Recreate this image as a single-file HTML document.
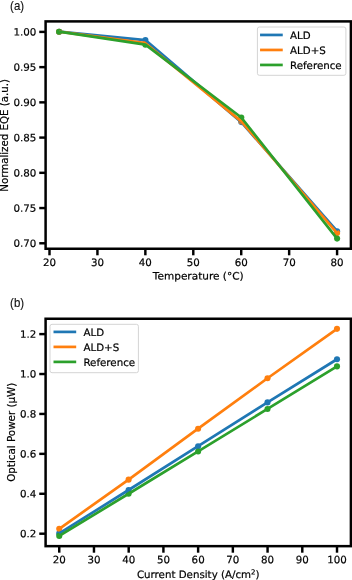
<!DOCTYPE html>
<html lang="en"><head><meta charset="utf-8"><title>Figure</title>
<style>html,body{margin:0;padding:0;background:#fff}body{width:352px;height:580px;overflow:hidden}svg{display:block}text{font-family:"DejaVu Sans","Liberation Sans",sans-serif;font-size:10.15px;fill:#000;stroke:#000;stroke-width:0.2px}.pl{font-family:"Liberation Sans",Arial,sans-serif;font-size:12.6px;fill:#111;stroke:#111;stroke-width:0.15px}</style></head><body>
<svg width="352" height="580" viewBox="0 0 352 580">
<rect width="352" height="580" fill="#fff"/>
<circle cx="59.10" cy="31.70" r="3.05" fill="#1f77b4"/>
<circle cx="145.40" cy="40.10" r="3.05" fill="#1f77b4"/>
<circle cx="241.30" cy="122.10" r="3.05" fill="#1f77b4"/>
<circle cx="337.10" cy="231.20" r="3.05" fill="#1f77b4"/>
<circle cx="59.10" cy="31.70" r="3.05" fill="#ff7f0e"/>
<circle cx="145.40" cy="43.20" r="3.05" fill="#ff7f0e"/>
<circle cx="241.30" cy="121.35" r="3.05" fill="#ff7f0e"/>
<circle cx="337.10" cy="233.10" r="3.05" fill="#ff7f0e"/>
<circle cx="59.10" cy="31.70" r="3.05" fill="#2ca02c"/>
<circle cx="145.40" cy="44.70" r="3.05" fill="#2ca02c"/>
<circle cx="241.30" cy="117.50" r="3.05" fill="#2ca02c"/>
<circle cx="337.10" cy="238.60" r="3.05" fill="#2ca02c"/>
<polyline fill="none" stroke="#1f77b4" stroke-width="2.7" stroke-linejoin="round" stroke-linecap="butt" points="59.10,31.70 145.40,40.10 241.30,122.10 337.10,231.20"/>
<polyline fill="none" stroke="#ff7f0e" stroke-width="2.7" stroke-linejoin="round" stroke-linecap="butt" points="59.10,31.70 145.40,43.20 241.30,121.35 337.10,233.10"/>
<polyline fill="none" stroke="#2ca02c" stroke-width="2.7" stroke-linejoin="round" stroke-linecap="butt" points="59.10,31.70 145.40,44.70 241.30,117.50 337.10,238.60"/>
<line x1="49.50" x2="49.50" y1="248.75" y2="255.30" stroke="#000" stroke-width="2.45"/>
<text transform="translate(49.50,265.95) scale(1.01,1) rotate(0.03)" text-anchor="middle">20</text>
<line x1="97.43" x2="97.43" y1="248.75" y2="255.30" stroke="#000" stroke-width="2.45"/>
<text transform="translate(97.43,265.95) scale(1.01,1) rotate(0.03)" text-anchor="middle">30</text>
<line x1="145.36" x2="145.36" y1="248.75" y2="255.30" stroke="#000" stroke-width="2.45"/>
<text transform="translate(145.36,265.95) scale(1.01,1) rotate(0.03)" text-anchor="middle">40</text>
<line x1="193.29" x2="193.29" y1="248.75" y2="255.30" stroke="#000" stroke-width="2.45"/>
<text transform="translate(193.29,265.95) scale(1.01,1) rotate(0.03)" text-anchor="middle">50</text>
<line x1="241.22" x2="241.22" y1="248.75" y2="255.30" stroke="#000" stroke-width="2.45"/>
<text transform="translate(241.22,265.95) scale(1.01,1) rotate(0.03)" text-anchor="middle">60</text>
<line x1="289.15" x2="289.15" y1="248.75" y2="255.30" stroke="#000" stroke-width="2.45"/>
<text transform="translate(289.15,265.95) scale(1.01,1) rotate(0.03)" text-anchor="middle">70</text>
<line x1="337.08" x2="337.08" y1="248.75" y2="255.30" stroke="#000" stroke-width="2.45"/>
<text transform="translate(337.08,265.95) scale(1.01,1) rotate(0.03)" text-anchor="middle">80</text>
<line x1="39.25" x2="45.60" y1="31.90" y2="31.90" stroke="#000" stroke-width="2.45"/>
<text transform="translate(36.40,35.50) scale(1.015,1) rotate(0.03)" text-anchor="end">1.00</text>
<line x1="39.25" x2="45.60" y1="67.13" y2="67.13" stroke="#000" stroke-width="2.45"/>
<text transform="translate(36.40,70.73) scale(1.015,1) rotate(0.03)" text-anchor="end">0.95</text>
<line x1="39.25" x2="45.60" y1="102.36" y2="102.36" stroke="#000" stroke-width="2.45"/>
<text transform="translate(36.40,105.96) scale(1.015,1) rotate(0.03)" text-anchor="end">0.90</text>
<line x1="39.25" x2="45.60" y1="137.59" y2="137.59" stroke="#000" stroke-width="2.45"/>
<text transform="translate(36.40,141.19) scale(1.015,1) rotate(0.03)" text-anchor="end">0.85</text>
<line x1="39.25" x2="45.60" y1="172.82" y2="172.82" stroke="#000" stroke-width="2.45"/>
<text transform="translate(36.40,176.42) scale(1.015,1) rotate(0.03)" text-anchor="end">0.80</text>
<line x1="39.25" x2="45.60" y1="208.05" y2="208.05" stroke="#000" stroke-width="2.45"/>
<text transform="translate(36.40,211.65) scale(1.015,1) rotate(0.03)" text-anchor="end">0.75</text>
<line x1="39.25" x2="45.60" y1="243.28" y2="243.28" stroke="#000" stroke-width="2.45"/>
<text transform="translate(36.40,246.88) scale(1.015,1) rotate(0.03)" text-anchor="end">0.70</text>
<rect x="45.60" y="21.40" width="305.30" height="227.35" fill="none" stroke="#000" stroke-width="2.5"/>
<text transform="translate(198.25,279.60) scale(1.038,1) rotate(0.03)" text-anchor="middle">Temperature (°C)</text>
<text transform="translate(8.20,135.42) scale(1.025,1) rotate(-90)" text-anchor="middle" style="font-size:10.23px">Normalized EQE (a.u.)</text>
<rect x="257.40" y="27.00" width="88.50" height="48.30" rx="2" ry="2" fill="#fff" fill-opacity="0.8" stroke="#d4d4d4" stroke-width="1"/>
<line x1="261.40" x2="281.40" y1="34.95" y2="34.95" stroke="#1f77b4" stroke-width="2.7" stroke-linecap="square"/>
<text transform="translate(290.00,39.10) scale(1.012,1) rotate(0.03)">ALD</text>
<line x1="261.40" x2="281.40" y1="49.95" y2="49.95" stroke="#ff7f0e" stroke-width="2.7" stroke-linecap="square"/>
<text transform="translate(290.00,54.10) scale(1.012,1) rotate(0.03)">ALD+S</text>
<line x1="261.40" x2="281.40" y1="64.95" y2="64.95" stroke="#2ca02c" stroke-width="2.7" stroke-linecap="square"/>
<text transform="translate(290.00,69.10) scale(1.012,1) rotate(0.03)">Reference</text>
<circle cx="59.25" cy="533.40" r="3.05" fill="#1f77b4"/>
<circle cx="128.60" cy="490.01" r="3.05" fill="#1f77b4"/>
<circle cx="198.10" cy="446.21" r="3.05" fill="#1f77b4"/>
<circle cx="267.50" cy="402.42" r="3.05" fill="#1f77b4"/>
<circle cx="337.00" cy="359.23" r="3.05" fill="#1f77b4"/>
<circle cx="59.25" cy="528.80" r="3.05" fill="#ff7f0e"/>
<circle cx="128.60" cy="479.65" r="3.05" fill="#ff7f0e"/>
<circle cx="198.10" cy="428.70" r="3.05" fill="#ff7f0e"/>
<circle cx="267.50" cy="378.25" r="3.05" fill="#ff7f0e"/>
<circle cx="337.00" cy="328.85" r="3.05" fill="#ff7f0e"/>
<circle cx="59.25" cy="535.90" r="3.05" fill="#2ca02c"/>
<circle cx="128.60" cy="493.76" r="3.05" fill="#2ca02c"/>
<circle cx="198.10" cy="451.47" r="3.05" fill="#2ca02c"/>
<circle cx="267.50" cy="408.93" r="3.05" fill="#2ca02c"/>
<circle cx="337.00" cy="366.38" r="3.05" fill="#2ca02c"/>
<polyline fill="none" stroke="#1f77b4" stroke-width="2.7" stroke-linejoin="round" stroke-linecap="butt" points="59.25,533.40 128.60,490.01 198.10,446.21 267.50,402.42 337.00,359.23"/>
<polyline fill="none" stroke="#ff7f0e" stroke-width="2.7" stroke-linejoin="round" stroke-linecap="butt" points="59.25,528.80 128.60,479.65 198.10,428.70 267.50,378.25 337.00,328.85"/>
<polyline fill="none" stroke="#2ca02c" stroke-width="2.7" stroke-linejoin="round" stroke-linecap="butt" points="59.25,535.90 128.60,493.76 198.10,451.47 267.50,408.93 337.00,366.38"/>
<line x1="59.25" x2="59.25" y1="546.15" y2="552.70" stroke="#000" stroke-width="2.45"/>
<text transform="translate(59.25,563.20) scale(1.01,1) rotate(0.03)" text-anchor="middle">20</text>
<line x1="93.97" x2="93.97" y1="546.15" y2="552.70" stroke="#000" stroke-width="2.45"/>
<text transform="translate(93.97,563.20) scale(1.01,1) rotate(0.03)" text-anchor="middle">30</text>
<line x1="128.69" x2="128.69" y1="546.15" y2="552.70" stroke="#000" stroke-width="2.45"/>
<text transform="translate(128.69,563.20) scale(1.01,1) rotate(0.03)" text-anchor="middle">40</text>
<line x1="163.41" x2="163.41" y1="546.15" y2="552.70" stroke="#000" stroke-width="2.45"/>
<text transform="translate(163.41,563.20) scale(1.01,1) rotate(0.03)" text-anchor="middle">50</text>
<line x1="198.13" x2="198.13" y1="546.15" y2="552.70" stroke="#000" stroke-width="2.45"/>
<text transform="translate(198.13,563.20) scale(1.01,1) rotate(0.03)" text-anchor="middle">60</text>
<line x1="232.85" x2="232.85" y1="546.15" y2="552.70" stroke="#000" stroke-width="2.45"/>
<text transform="translate(232.85,563.20) scale(1.01,1) rotate(0.03)" text-anchor="middle">70</text>
<line x1="267.57" x2="267.57" y1="546.15" y2="552.70" stroke="#000" stroke-width="2.45"/>
<text transform="translate(267.57,563.20) scale(1.01,1) rotate(0.03)" text-anchor="middle">80</text>
<line x1="302.29" x2="302.29" y1="546.15" y2="552.70" stroke="#000" stroke-width="2.45"/>
<text transform="translate(302.29,563.20) scale(1.01,1) rotate(0.03)" text-anchor="middle">90</text>
<line x1="337.01" x2="337.01" y1="546.15" y2="552.70" stroke="#000" stroke-width="2.45"/>
<text transform="translate(337.01,563.20) scale(1.01,1) rotate(0.03)" text-anchor="middle">100</text>
<line x1="39.25" x2="45.60" y1="533.70" y2="533.70" stroke="#000" stroke-width="2.45"/>
<text transform="translate(36.40,537.30) scale(1.015,1) rotate(0.03)" text-anchor="end">0.2</text>
<line x1="39.25" x2="45.60" y1="493.78" y2="493.78" stroke="#000" stroke-width="2.45"/>
<text transform="translate(36.40,497.38) scale(1.015,1) rotate(0.03)" text-anchor="end">0.4</text>
<line x1="39.25" x2="45.60" y1="453.86" y2="453.86" stroke="#000" stroke-width="2.45"/>
<text transform="translate(36.40,457.46) scale(1.015,1) rotate(0.03)" text-anchor="end">0.6</text>
<line x1="39.25" x2="45.60" y1="413.94" y2="413.94" stroke="#000" stroke-width="2.45"/>
<text transform="translate(36.40,417.54) scale(1.015,1) rotate(0.03)" text-anchor="end">0.8</text>
<line x1="39.25" x2="45.60" y1="374.02" y2="374.02" stroke="#000" stroke-width="2.45"/>
<text transform="translate(36.40,377.62) scale(1.015,1) rotate(0.03)" text-anchor="end">1.0</text>
<line x1="39.25" x2="45.60" y1="334.10" y2="334.10" stroke="#000" stroke-width="2.45"/>
<text transform="translate(36.40,337.70) scale(1.015,1) rotate(0.03)" text-anchor="end">1.2</text>
<rect x="45.60" y="318.75" width="305.30" height="227.40" fill="none" stroke="#000" stroke-width="2.5"/>
<text transform="translate(198.25,578.05) scale(1.012,1) rotate(0.03)" text-anchor="middle">Current Density (A/cm<tspan font-size="7" dy="-3.6">2</tspan><tspan dy="3.6">)</tspan></text>
<text transform="translate(14.90,432.25) scale(1.025,1) rotate(-90)" text-anchor="middle" style="font-size:10.34px">Optical Power (µW)</text>
<rect x="50.00" y="324.30" width="88.40" height="48.40" rx="2" ry="2" fill="#fff" fill-opacity="0.8" stroke="#d4d4d4" stroke-width="1"/>
<line x1="54.85" x2="74.85" y1="331.90" y2="331.90" stroke="#1f77b4" stroke-width="2.7" stroke-linecap="square"/>
<text transform="translate(83.45,336.05) scale(1.012,1) rotate(0.03)">ALD</text>
<line x1="54.85" x2="74.85" y1="346.90" y2="346.90" stroke="#ff7f0e" stroke-width="2.7" stroke-linecap="square"/>
<text transform="translate(83.45,351.05) scale(1.012,1) rotate(0.03)">ALD+S</text>
<line x1="54.85" x2="74.85" y1="361.90" y2="361.90" stroke="#2ca02c" stroke-width="2.7" stroke-linecap="square"/>
<text transform="translate(83.45,366.05) scale(1.012,1) rotate(0.03)">Reference</text>
<text class="pl" transform="translate(10.1,10.4) scale(0.91,1)">(a)</text>
<text class="pl" transform="translate(10.1,307.2) scale(0.91,1)">(b)</text>
</svg></body></html>
